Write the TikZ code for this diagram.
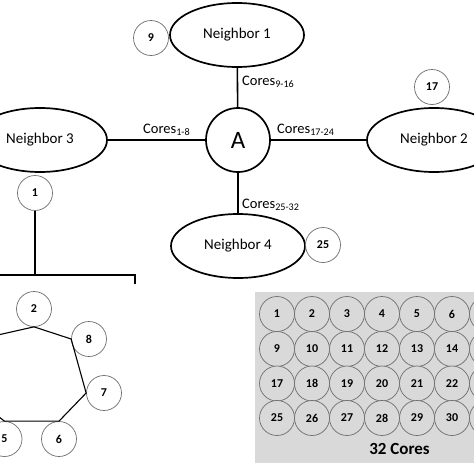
\documentclass[tikz,border=0pt]{standalone}
\usepackage{fontspec}
\setmainfont{Carlito}
\usetikzlibrary{shapes.geometric}
\definecolor{boxgray}{RGB}{217,217,217}
\definecolor{ringgray}{RGB}{110,110,110}
\tikzset{
  nbr/.style={ellipse, draw=black, line width=1.7pt, minimum width=134pt, minimum height=64pt, inner sep=0pt, font=\fontsize{15}{18}\selectfont},
  hub/.style={circle, draw=black, line width=1.7pt, minimum size=64pt, inner sep=0pt, font=\fontsize{25}{30}\selectfont},
  core/.style={circle, draw=ringgray, line width=0.7pt, minimum size=35pt, inner sep=0pt, font=\fontsize{12}{14}\selectfont\bfseries},
  gcore/.style={core, fill=boxgray},
  link/.style={line width=1.6pt},
  ring/.style={line width=1.1pt},
  lbl/.style={anchor=west, inner sep=0pt, font=\fontsize{14.5}{16}\selectfont}
}
\begin{document}
\begin{tikzpicture}[x=1pt,y=-1pt]
\useasboundingbox (0,0) rectangle (474,474);
% top graph
\node[nbr] (n1) at (237,35) {Neighbor 1};
\node[nbr] (n3) at (40,140) {Neighbor 3};
\node[nbr] (n2) at (434,140) {Neighbor 2};
\node[nbr] (n4) at (238,246) {Neighbor 4};
\node[hub] (A) at (238,140) {A};
\draw[link] (n1) -- (A);
\draw[link] (n3) -- (A);
\draw[link] (A) -- (n2);
\draw[link] (A) -- (n4);
\node[lbl] (l1) at (242,82) {Cores\textsubscript{9-16}};
\node[lbl] (l2) at (143,130) {Cores\textsubscript{1-8}};
\node[lbl] (l3) at (277,130) {Cores\textsubscript{17-24}};
\node[lbl] (l4) at (242,205) {Cores\textsubscript{25-32}};
\node[core] (c9) at (151,38) {9};
\node[core] (c17) at (432,87) {17};
\node[core] (c25) at (323,245) {25};
% bottom-left ring
\node[core] (c1) at (35,193) {1};
\coordinate (t1) at (35,275);
\coordinate (tl) at (-2,275);
\coordinate (tr) at (135,275);
\coordinate (tr2) at (135,284);
\draw[link] (c1) -- (t1);
\draw[link] (tl) -- (tr) -- (tr2);
\node[core] (c2) at (34,309) {2};
\node[core] (c8) at (89,339) {8};
\node[core] (c7) at (104,393) {7};
\node[core] (c6) at (59,439) {6};
\node[core] (c5) at (4.5,439) {5};
\coordinate (p3) at (-20,339);
\coordinate (p4) at (-10,410);
\draw[ring] (p3) -- (c2.south) -- (c8.west) -- (c7.west) -- (c6.north) -- (c5.north) -- (p4);
% 32 cores box
\fill[boxgray] (255,292) rectangle (480,463);
\foreach \r [count=\j from 0] in {314,349,383.5,418} {
  \foreach \i in {1,...,6} {
    \pgfmathtruncatemacro{\num}{\j*8+\i}
    \node[gcore] (g\num) at ({277+35*(\i-1)},\r) {\num};
  }
  \pgfmathtruncatemacro{\numb}{\j*8+7}
  \node[gcore] (g\numb) at (487,\r) {};
}
\node[font=\fontsize{17}{20}\selectfont\bfseries] (cap) at (399.5,449) {32 Cores};
\end{tikzpicture}
\end{document}
